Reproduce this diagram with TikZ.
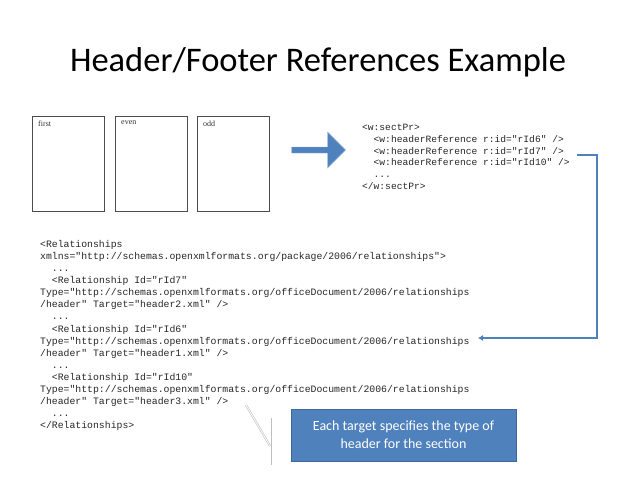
\documentclass[tikz,border=0pt]{standalone}
\usepackage{fontspec}
\setmainfont{Carlito}
\newfontfamily\codefont{Liberation Mono}
\newfontfamily\labfont{Liberation Serif}
\usetikzlibrary{shapes.arrows,arrows.meta}
\definecolor{accent}{HTML}{4F81BD}
\tikzset{page/.style={draw=black!70,line width=0.6pt,minimum width=72pt,minimum height=95pt,anchor=north west,inner sep=0pt},
pagelabel/.style={font=\labfont\fontsize{8}{9}\selectfont,anchor=north west,inner sep=0pt,text=black!80},
code/.style={font=\codefont\fontsize{9.8}{12.1}\selectfont,align=left,anchor=north west,inner sep=0pt,text=black!85},
link/.style={draw=accent,line width=1.3pt}}
\begin{document}
\begin{tikzpicture}[x=1pt,y=-1pt]
\useasboundingbox (0,0) rectangle (638,479);
\node (title) at (318,62) {\fontsize{34.5}{38}\selectfont Header/Footer References Example};
\node[page] (p1) at (32,116) {};
\node[page] (p2) at (115,116) {};
\node[page] (p3) at (197,116) {};
\node[pagelabel] at (38,121) {first};
\node[pagelabel] at (121,121) {even};
\node[pagelabel] at (203,121) {odd};
\node[single arrow,fill=accent,draw=accent!60,minimum width=36pt,single arrow head extend=6pt,minimum height=54pt,inner sep=1pt] (arr) at (317,150) {};
\node[code,font=\codefont\fontsize{9.6}{11.8}\selectfont] (sect) at (362,124) {<w:sectPr>\\
\ \ <w:headerReference r:id="rId6" />\\
\ \ <w:headerReference r:id="rId7" />\\
\ \ <w:headerReference r:id="rId10" />\\
\ \ ...\\
</w:sectPr>};
\coordinate (s) at (577,155);
\node[code] (rels) at (40,240) {<Relationships\\
xmlns="http://schemas.openxmlformats.org/package/2006/relationships">\\
\ \ ...\\
\ \ <Relationship Id="rId7"\\
Type="http://schemas.openxmlformats.org/officeDocument/2006/relationships\\
/header" Target="header2.xml" />\\
\ \ ...\\
\ \ <Relationship Id="rId6"\\
Type="http://schemas.openxmlformats.org/officeDocument/2006/relationships\\
/header" Target="header1.xml" />\\
\ \ ...\\
\ \ <Relationship Id="rId10"\\
Type="http://schemas.openxmlformats.org/officeDocument/2006/relationships\\
/header" Target="header3.xml" />\\
\ \ ...\\
</Relationships>};
\coordinate (t) at (478,338);
\draw[link,-{Latex[length=5pt,width=6pt]}] (s) -- (597,155) -- (597,338) -- (t);
\node[fill=accent,draw=accent!80!black,minimum width=225pt,minimum height=52pt,text=white,align=center,font=\fontsize{14}{18}\selectfont] (call) at (403.5,435) {Each target specifies the type of\\header for the section};
\draw[black!25,line width=2pt] (246,405) -- (270,446);
\draw[white,line width=0.8pt] (246,405) -- (270,446);
\draw[black!25,line width=2pt] (272,418) -- (272,465);
\draw[white,line width=0.8pt] (272,418) -- (272,465);
\end{tikzpicture}
\end{document}
